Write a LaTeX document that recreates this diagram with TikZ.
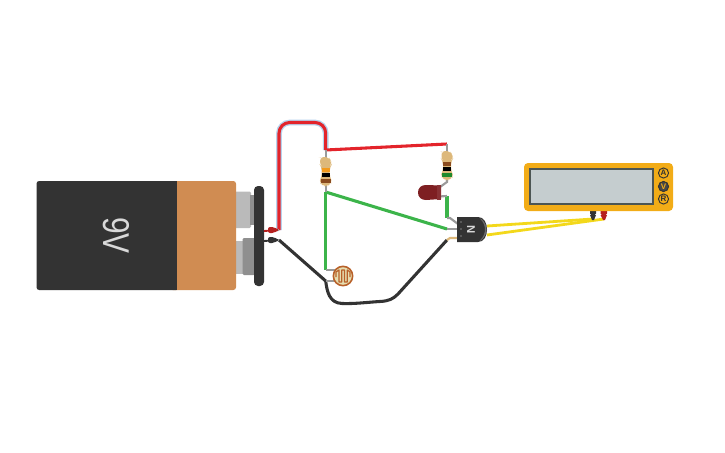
\documentclass[tikz,border=0pt]{standalone}
\usepackage{fontspec}
\setmainfont{Liberation Sans}
\definecolor{batblack}{HTML}{333333}
\definecolor{batorange}{HTML}{D08C52}
\definecolor{lgrey}{HTML}{BABABA}
\definecolor{mgrey}{HTML}{8F8F8F}
\definecolor{wred}{HTML}{E3242B}
\definecolor{wgreen}{HTML}{3CB44A}
\definecolor{wyellow}{HTML}{F3D81B}
\definecolor{halo}{HTML}{B5D3EE}
\definecolor{stubgrey}{HTML}{9A9A9A}
\definecolor{restan}{HTML}{DDB87A}
\definecolor{ledred}{HTML}{7E1F22}
\definecolor{meter}{HTML}{F2AC17}
\definecolor{screenc}{HTML}{C5CDCF}
\definecolor{screenb}{HTML}{4C5553}
\definecolor{ldrbg}{HTML}{E6DDB0}
\definecolor{ldrline}{HTML}{B8612A}
\definecolor{clipred}{HTML}{B5201F}
\definecolor{bandorange}{HTML}{F39A1C}
\definecolor{bandbrown}{HTML}{8A4B1E}
\definecolor{bandgreen}{HTML}{1F8A2E}
\tikzset{
  x=0.75pt,y=-0.75pt,
  wire/.style={line width=2.3pt,line join=round},
  redwire/.style={wire,draw=wred},
  greenwire/.style={wire,draw=wgreen},
  blackwire/.style={wire,draw=batblack},
  yellowwire/.style={line width=2.1pt,draw=wyellow},
  stub/.style={line width=1.6pt,draw=stubgrey},
  knob/.style={circle,draw=batblack,line width=0.7pt,minimum size=7.6pt,inner sep=0pt,font=\fontsize{6}{6}\selectfont\bfseries,text=batblack},
}
\newcommand{\resistor}[4]{%
  \begin{scope}[shift={(#1)}]
    \fill[restan,rounded corners=3pt] (-5.5,0) -- (-3,0) -- (3,0) -- (5.5,4) -- (5.5,8) -- (4,10) -- (4,20) -- (5.5,23) -- (5.5,26) -- (2,29) -- (-2,29) -- (-5.5,26) -- (-5.5,23) -- (-4,20) -- (-4,10) -- (-5.5,8) -- (-5.5,4) -- cycle;
    \fill[#2] (-4,11) rectangle (4,14.5);
    \fill[#3] (-4,16) rectangle (4,20);
    \fill[#4] (-5.2,21.5) rectangle (5.2,25.5);
  \end{scope}}
\begin{document}
\begin{tikzpicture}
\useasboundingbox (0,0) rectangle (725,453);
% battery
\fill[lgrey,rounded corners=1pt] (234,191.5) rectangle (251,228);
\fill[mgrey] (250,195) rectangle (255,225);
\fill[lgrey] (234,241) rectangle (244,274);
\fill[mgrey,rounded corners=1pt] (242.5,238) rectangle (255,275);
\fill[batorange,rounded corners=2pt] (170,181) rectangle (236,290);
\fill[batblack,rounded corners=2pt] (36.5,181) rectangle (179,290);
\fill[batorange] (177,181) rectangle (185,290);
\node[rotate=-90,text=white!85!black,font=\fontsize{28}{28}\selectfont] (label) at (116,235.5) {\scalebox{0.8}[1]{9V}};
\fill[batblack,rounded corners=3pt] (254,186) rectangle (264,286);
% terminal coordinates
\coordinate (rp) at (279,230);
\coordinate (rb) at (279,240);
\coordinate (r1top) at (325.7,150);
\coordinate (r1bot) at (325.7,192);
\coordinate (r2top) at (447,144);
\coordinate (ldra) at (325.7,270);
\coordinate (ldrb) at (325.7,281);
\coordinate (tb) at (447,229);
\coordinate (te) at (447,240);
\coordinate (tc) at (447,218);
\coordinate (ledc) at (447,196);
\coordinate (mb) at (593,219);
\coordinate (mr) at (604,219);
% wires
\draw[line width=4.3pt,draw=halo,rounded corners=8pt] (rp) -- (279,122.5) -- (325.7,122.5) -- (r1top);
\draw[redwire,rounded corners=8pt] (rp) -- (279,122.5) -- (325.7,122.5) -- (r1top);
\draw[redwire] (r1top) -- (r2top);
\draw[greenwire] (r1bot) -- (ldra);
\draw[greenwire] (r1bot) -- (tb);
\draw[greenwire] (ledc) -- (tc);
\draw[blackwire] (rb) -- (ldrb);
\draw[blackwire] (ldrb) .. controls (327,291) and (329,303) .. (342,303.5) .. controls (355,304) and (370,302) .. (380,301.5) .. controls (389,301) and (393,299) .. (398,294) -- (te);
% probes wires
\draw[yellowwire] (487,226) -- (mb);
\draw[yellowwire] (487,235) -- (mr);
% stubs
\draw[stub] (r1top) -- ++(0,9);
\draw[stub] (r1bot) -- ++(0,-9);
\draw[stub] (r2top) -- ++(0,8);
\draw[stub] (ldra) -- (335,270);
\draw[stub] (ldrb) -- (335,281);
\draw[stub] (447,176) -- (447,182) -- (440,187);
\draw[stub] (ledc) -- (439,196.5);
\draw[stub] (tc) -- (450,218) -- (458,224);
\draw[stub] (tb) -- (458,229);
\draw[stub,draw=restan] (te) -- (450,238) -- (458,238);
% clips
\draw[line width=1.4pt,draw=clipred] (264,231) -- (279,230);
\draw[line width=1.4pt,draw=batblack] (264,241) -- (279,240);
\fill[clipred,rounded corners=1.5pt] (268,227) -- (274,227) -- (278.5,230) -- (274,233) -- (268,233) -- cycle;
\fill[batblack,rounded corners=1.5pt] (268,237) -- (274,237) -- (278.5,240) -- (274,243) -- (268,243) -- cycle;
\draw[stub] (278,230) -- (rp);
\draw[stub] (278,240) -- (rb);
% resistors
\resistor{325.7,157}{bandorange}{black}{bandbrown}
\resistor{447,151}{bandbrown}{black}{bandgreen}
% LDR
\node[circle,draw=ldrline,fill=ldrbg,line width=1.2pt,minimum size=14.5pt,inner sep=0pt] (ldr) at (343,276) {};
\draw[ldrline,line width=0.9pt,line join=round] (336,277) -- (336,272) -- (339,270) -- (339,282) -- (341.7,282) -- (341.7,270) -- (344.5,270) -- (344.5,282) -- (347.3,282) -- (347.3,270) -- (350,272) -- (350,277);
% LED
\fill[ledred] (426,185) -- (441,185.5) -- (441,199) -- (426,200) .. controls (421,200) and (418,197) .. (418,192.5) .. controls (418,188) and (421,185) .. (426,185) -- cycle;
\fill[ledred!92!white] (436.5,184.8) rectangle (441,199.5);
% transistor
\fill[batblack] (457,217) -- (478,217) .. controls (484,217) and (487,223) .. (487,229.5) .. controls (487,236) and (484,242) .. (478,242) -- (457,242) -- cycle;
\fill[mgrey!60!batblack] (481,218.5) .. controls (485,222) and (486.5,226) .. (486.5,229.5) .. controls (486.5,233) and (485,237) .. (481,240.5) -- (480,240.5) .. controls (483.5,237) and (485,233) .. (485,229.5) .. controls (485,226) and (483.5,222) .. (480,218.5) -- cycle;
\fill[mgrey!40!batblack] (460,221) rectangle (462,223);
\fill[mgrey!40!batblack] (460,228) rectangle (462,230);
\fill[mgrey!40!batblack] (460,235) rectangle (462,237);
\node[rotate=-90,text=white!85!black,font=\fontsize{8.5}{8.5}\selectfont\bfseries] (tn) at (471,230) {N};
% multimeter
\fill[batblack,rounded corners=1pt] (590,209) rectangle (596,215);
\fill[batblack] (590,215) -- (596,215) -- (594,220) -- (592,220) -- cycle;
\fill[clipred,rounded corners=1pt] (600.5,209) rectangle (607,215);
\fill[clipred] (600.5,215) -- (607,215) -- (605,220) -- (603,220) -- cycle;
\fill[meter,rounded corners=3pt] (524,163) rectangle (673,211);
\draw[fill=screenc,draw=screenb,line width=1.5pt] (530,169) rectangle (653,204);
\node[knob] (ka) at (663.5,173) {A};
\node[knob,fill=batblack!90!white,text=meter] (kv) at (663.5,186.5) {V};
\node[knob] (kr) at (663.5,199) {R};
\end{tikzpicture}
\end{document}
